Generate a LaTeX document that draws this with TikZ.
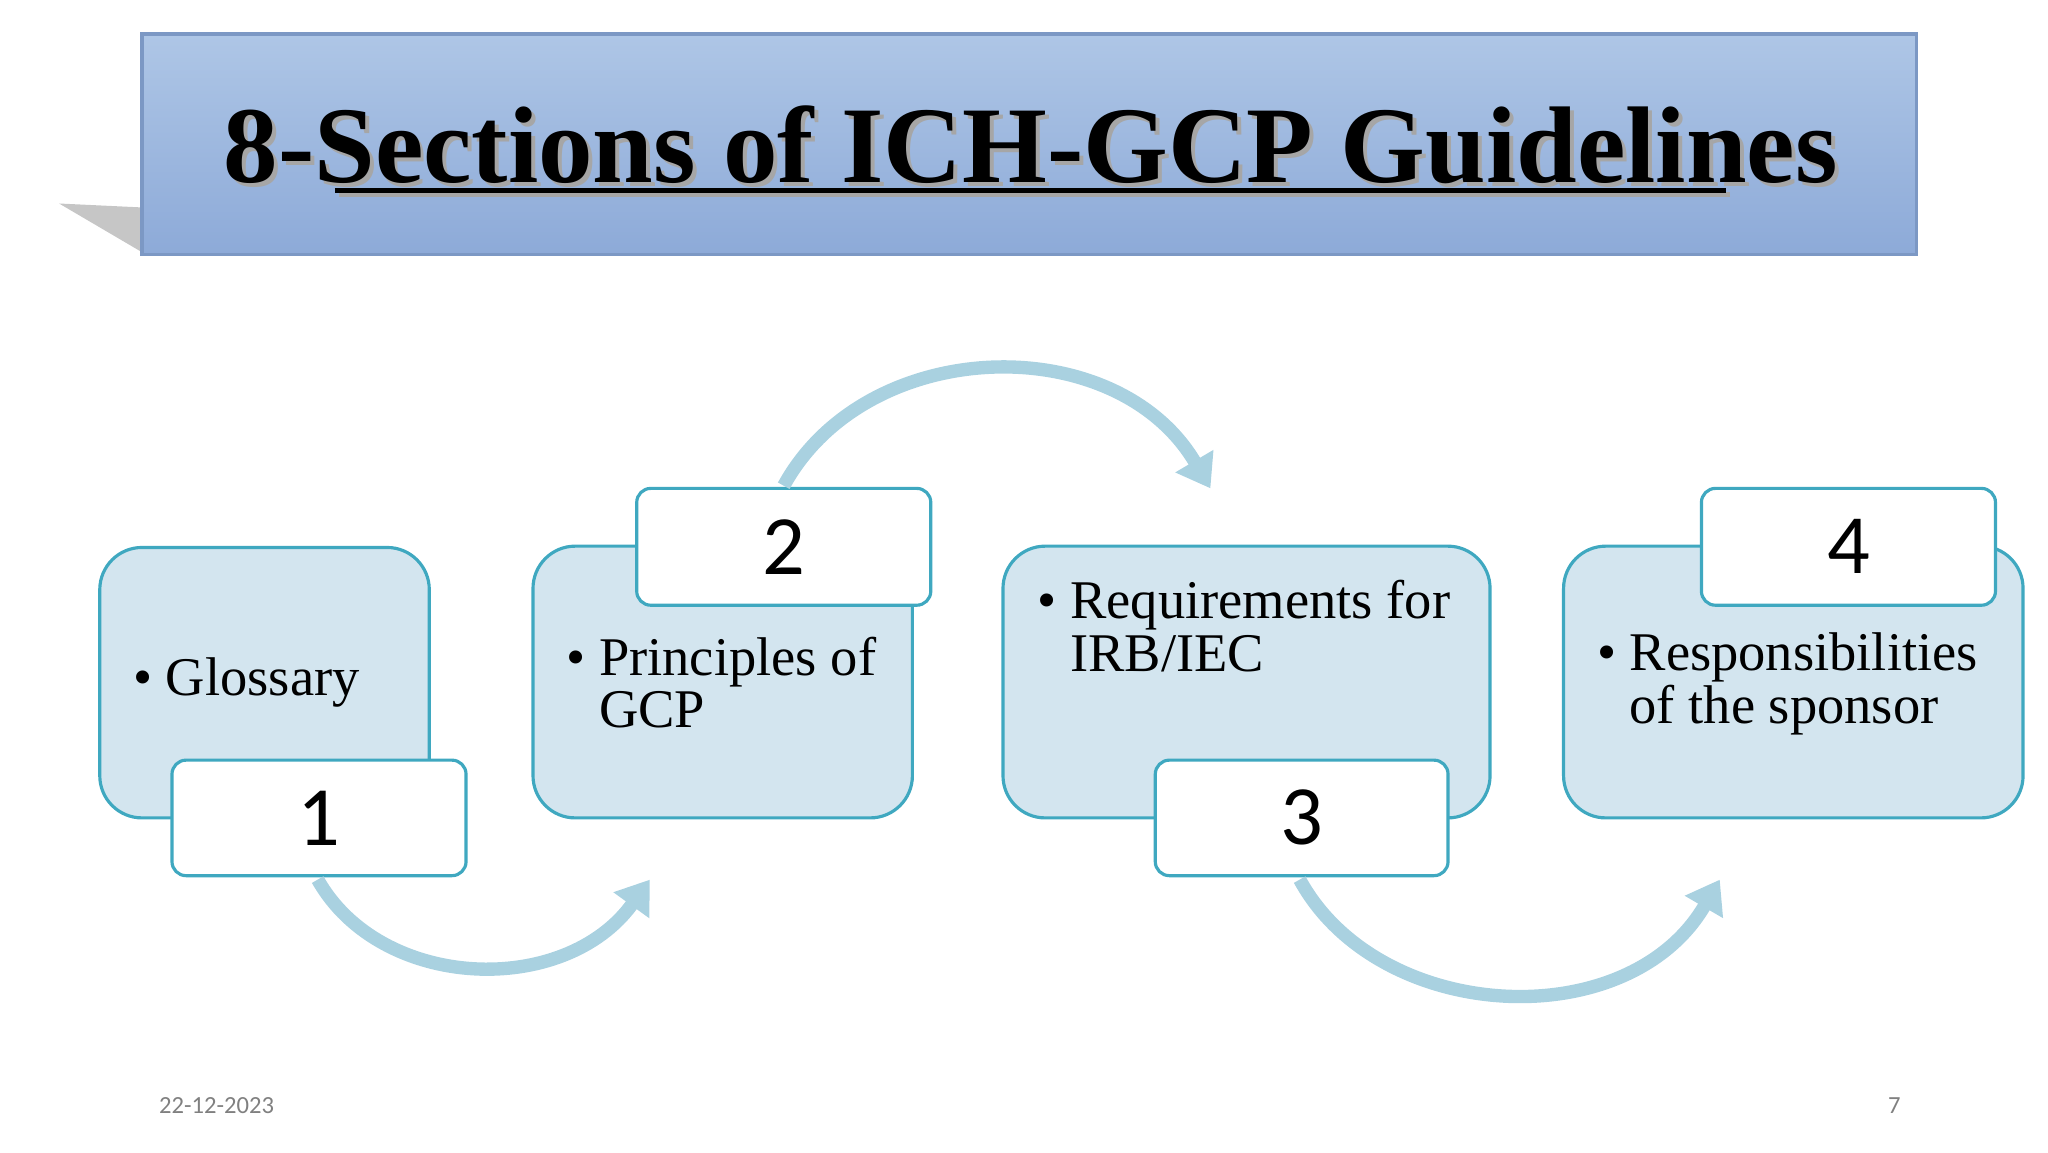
\documentclass[tikz,border=0pt]{standalone}
\usepackage{fontspec}
\setmainfont{Liberation Serif}
\newfontfamily\numfont{Carlito}
\usetikzlibrary{arrows.meta}
\definecolor{boxfill}{HTML}{D3E5EF}
\definecolor{boxline}{HTML}{3FA8C0}
\definecolor{arrowc}{HTML}{A9D1E0}
\definecolor{bantop}{HTML}{AEC6E6}
\definecolor{banbot}{HTML}{8DAAD8}
\definecolor{banline}{HTML}{7C98C4}
\tikzset{
 bigbox/.style={draw=boxline,fill=boxfill,rounded corners=12pt,line width=0.9pt},
 numbox/.style={draw=boxline,fill=white,rounded corners=4pt,line width=0.9pt},
 numtxt/.style={font=\numfont\fontsize{24}{28}\selectfont},
 bodytxt/.style={font=\fontsize{15.5}{15}\selectfont,align=left,anchor=west},
 flow/.style={draw=arrowc,line width=3.8pt,-{Triangle[length=9pt,width=12pt]}},
 foot/.style={font=\numfont\fontsize{7}{8}\selectfont,text=gray}
}
\begin{document}
\begin{tikzpicture}[x=0.013128cm,y=-0.013128cm]
\useasboundingbox (0,0) rectangle (1560,877.5);
% banner
\fill[gray!45] (45,155) -- (108,158) -- (108,192) -- cycle;
\shade[top color=bantop,bottom color=banbot,draw=banline,line width=1pt] (108,26) rectangle (1460,194);
\node (titsh) at (788,113) {\fontsize{31}{36}\bfseries\selectfont\color{gray!70}8-Sections of ICH-GCP Guidelines};
\node (title) at (785,110) {\fontsize{31}{36}\bfseries\selectfont 8-Sections of ICH-GCP Guidelines};
\draw[gray!70,line width=1.4pt] (258,148) -- (1318,148);
\draw[black,line width=1.4pt] (255,145) -- (1315,145);
% boxes
\draw[bigbox] (76,417) rectangle (327,623);
\draw[numbox] (131,579) rectangle node[numtxt] (n1) {1} (355,667);
\node[bodytxt] (t1) at (92,520) {• Glossary};
\draw[bigbox] (406,416) rectangle (695,623);
\draw[numbox] (485,372) rectangle node[numtxt] (n2) {2} (709,461);
\node[bodytxt] (t2) at (422,520) {• Principles of\\\phantom{• }GCP};
\draw[bigbox] (764,416) rectangle (1135,623);
\draw[numbox] (880,579) rectangle node[numtxt] (n3) {3} (1103,667);
\node[bodytxt] (t3) at (781,477) {• Requirements for\\\phantom{• }IRB/IEC};
\draw[bigbox] (1191,416) rectangle (1541,623);
\draw[numbox] (1296,372) rectangle node[numtxt] (n4) {4} (1520,461);
\node[bodytxt] (t4) at (1207,521) {• Responsibilities\\\phantom{• }of the sponsor};
% arrows
\coordinate (a1s) at (242,670); \coordinate (a1e) at (495,670);
\coordinate (a2s) at (597,370); \coordinate (a2e) at (922,372);
\coordinate (a3s) at (990,670); \coordinate (a3e) at (1310,670);
\draw[flow] (a1s) .. controls (290,755) and (430,760) .. (a1e);
\draw[flow] (a2s) .. controls (660,255) and (850,250) .. (a2e);
\draw[flow] (a3s) .. controls (1050,780) and (1240,790) .. (a3e);
% footer
\node[foot] (date) at (165,842) {22-12-2023};
\node[foot] (page) at (1443,842) {7};
\end{tikzpicture}
\end{document}
